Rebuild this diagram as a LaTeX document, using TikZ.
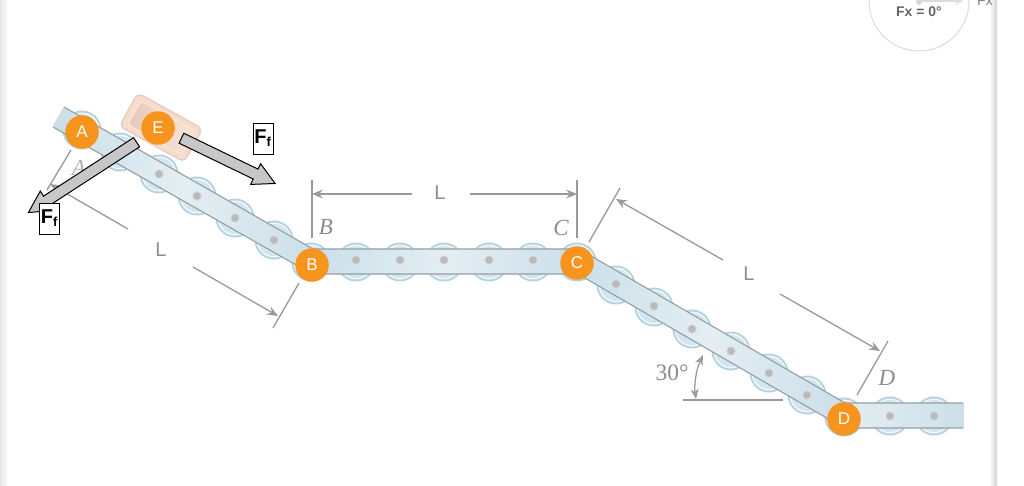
\documentclass[tikz,border=0pt]{standalone}
\usepackage{fontspec}
\setmainfont{Liberation Sans}
\newfontfamily\serifit{Liberation Serif}
\usetikzlibrary{shapes.arrows,arrows.meta,calc}
\definecolor{bandA}{HTML}{CBDFE9}
\definecolor{bandB}{HTML}{E4EEF3}
\definecolor{bandedge}{HTML}{949FA4}
\definecolor{rollout}{HTML}{B4D3E1}
\definecolor{rollin}{HTML}{D3E5EE}
\definecolor{dimgray}{HTML}{999999}
\definecolor{orangeb}{HTML}{F7941E}
\definecolor{blockout}{HTML}{F2DDD0}
\definecolor{blockedge}{HTML}{EBCDBB}
\definecolor{blockinA}{HTML}{E6C7BB}
\definecolor{blockinB}{HTML}{F7E5D7}
\tikzset{
  roller/.pic={
    \fill[rollout] (0,0) circle (19.5pt);
    \fill[white!70!rollin] (0,0) circle (17.5pt);
    \fill[rollin] (0,0) circle (16pt);
  },
  pinmark/.style={circle,inner sep=0pt,minimum size=8.5pt,fill=black!27,draw=black!15,line width=.7pt},
  dimline/.style={draw=dimgray,line width=1.3pt},
  dimarrow/.style={dimline,-{Stealth[length=11pt,width=9pt,inset=4pt]}},
  orangedot/.style={circle,fill=orangeb,inner sep=0pt,minimum size=33.5pt,text=white,font=\fontsize{17}{17}\selectfont},
  dimlabel/.style={text=black!45,font=\fontsize{20}{20}\selectfont,inner sep=0pt},
  letterlabel/.style={text=black!45,font=\fontsize{23}{23}\serifit\itshape,inner sep=0pt},
  forcebox/.style={draw=black,line width=1pt,fill=white,inner sep=0pt,minimum width=20pt,minimum height=31pt,font=\fontsize{20}{20}\selectfont\bfseries},
  blockarrow/.style={single arrow,draw=black,line width=1pt,fill=black!22,inner xsep=0pt,inner ysep=5pt,minimum width=22pt,single arrow head extend=6pt,single arrow tip angle=56,anchor=tail},
  bandshade/.style={left color=bandA,right color=bandA,middle color=bandB},
  bandline/.style={draw=bandedge,line width=1.1pt},
}
\newcommand{\ffbox}{F\textsubscript{\fontsize{13}{13}\selectfont f}}
\begin{document}
\begin{tikzpicture}[x=1pt,y=-1pt]
\useasboundingbox (0,0) rectangle (1024,485);
\begin{scope}
\clip (0,0) rectangle (1024,485);
% page edges
\fill[white] (0,0) rectangle (1024,485);
\shade[left color=black!10,right color=white] (0,0) rectangle (8,485);
\shade[left color=white,right color=black!18] (989,0) rectangle (997,485);
% compass
\draw[black!14,line width=1pt] (919,1) circle (50pt);
\draw[black!14,line width=1.2pt,-{Stealth[length=8pt,width=7pt]}] (919,1) -- (963,1);
\fill[black!16] (919,2) circle (3pt);
\node[text=black!60,font=\fontsize{14}{14}\selectfont\bfseries,inner sep=0pt] (fxz) at (919,12) {Fx = 0°};
\node[text=black!50,font=\fontsize{14}{14}\selectfont,inner sep=0pt] (fxl) at (985,1) {Fx};
\end{scope}
% rollers
\foreach \p in {(82,130),(120,152),(159,174),(197,196),(235,218),(274,240),(311,262),
  (356,262),(400,262),(444,262),(489,262),(533,262),(577,262),
  (616,285),(654,307),(692,329),(731,351),(769,373),(807,395),(844,417),(890,416),(934,416)}
  \pic at \p {roller};
% band
\shade[bandshade] (64,107) -- (313,249) -- (312,274) -- (53,127) -- cycle;
\shade[bandshade] (313,249) -- (579,249) -- (578,274) -- (312,274) -- cycle;
\shade[bandshade] (579,249) -- (845,403) -- (844,428) -- (578,274) -- cycle;
\shade[left color=bandB,right color=bandA] (845,403) -- (963,403) -- (963,428) -- (844,428) -- cycle;
\draw[bandline] (64,107) -- (313,249) -- (579,249) -- (845,403) -- (963,403);
\draw[bandline] (53,127) -- (312,274) -- (578,274) -- (844,428) -- (963,428);
\draw[draw=bandA,line width=1pt] (64,107) -- (53,127);
\draw[draw=bandA,line width=1pt] (963,403) -- (963,428);
% pins
\foreach \p [count=\i] in {(159,174),(197,196),(235,218),(274,240),
  (356,260),(400,260),(444,260),(489,260),(533,260),
  (616,284),(654,306),(692,329),(731,351),(769,373),(807,395),(890,416),(934,416)}
  \node[pinmark] (pin\i) at \p {};
% block E
\begin{scope}[shift={(161,127.5)},rotate=-29]
\filldraw[fill=blockout,draw=blockedge,line width=1.5pt,rounded corners=6pt] (-37,19) rectangle (37,-19);
\shade[left color=blockinA,right color=blockinB,draw=white!80!orange,line width=1.2pt,rounded corners=3pt] (-30.5,13.5) rectangle (30.5,-13.5);
\end{scope}
% dimension coordinates
\coordinate (extAa) at (71,150); \coordinate (extAb) at (47,190);
\coordinate (extBa) at (299,283); \coordinate (extBb) at (273,328);
\coordinate (la1) at (128,229); \coordinate (la2) at (50,184);
\coordinate (lb1) at (193,267); \coordinate (lb2) at (278,316);
\coordinate (mA) at (312,180); \coordinate (mB) at (312,238);
\coordinate (mC) at (577,180); \coordinate (mD) at (577,238);
\coordinate (ma1) at (412,194); \coordinate (ma2) at (312,194);
\coordinate (mb1) at (470,194); \coordinate (mb2) at (577,194);
\coordinate (rA) at (620,188); \coordinate (rB) at (589,242);
\coordinate (rC) at (888,341); \coordinate (rD) at (857,395);
\coordinate (ra1) at (723,260); \coordinate (ra2) at (616,199);
\coordinate (rb1) at (780,294); \coordinate (rb2) at (880,351);
\coordinate (h1) at (683,400); \coordinate (h2) at (783,400);
\coordinate (arc1) at (703,355); \coordinate (arc2) at (696,399);
\foreach \a/\b in {extAa/extAb,extBa/extBb,mA/mB,mC/mD,rA/rB,rC/rD,h1/h2}
  \draw[dimline] (\a) -- (\b);
\foreach \a/\b in {la1/la2,lb1/lb2,ma1/ma2,mb1/mb2,ra1/ra2,rb1/rb2}
  \draw[dimarrow] (\a) -- (\b);
\draw[dimline,{Stealth[length=10pt,width=8pt,inset=3pt]}-{Stealth[length=10pt,width=8pt,inset=3pt]}] (arc1) .. controls (696,370) and (694,385) .. (arc2);
% text labels
\node[dimlabel] (L1) at (161,250) {L};
\node[dimlabel] (L2) at (440,193) {L};
\node[dimlabel] (L3) at (749,274) {L};
\node[letterlabel,text=black!30] (lA) at (79,168) {A};
\node[letterlabel] (lB) at (326,227) {B};
\node[letterlabel] (lC) at (561,228) {C};
\node[letterlabel] (lD) at (887,378) {D};
\node[text=black!45,font=\fontsize{23.5}{23.5}\serifit,inner sep=0pt] (ang) at (672,373) {30°};
% force arrows
\node[blockarrow,minimum height=104pt,rotate=-25.8] (f1) at (181,138) {};
\node[blockarrow,minimum height=129pt,rotate=213] (f2) at (137,142) {};
\node[forcebox] (b1) at (263,138.5) {\ffbox};
\node[forcebox] (b2) at (49.5,218.5) {\ffbox};
% points
\node[orangedot] (A) at (82,132) {A};
\node[orangedot] (E) at (158,128) {E};
\node[orangedot] (B) at (312,265) {B};
\node[orangedot] (C) at (577,263) {C};
\node[orangedot] (D) at (844,419) {D};
\end{tikzpicture}
\end{document}
